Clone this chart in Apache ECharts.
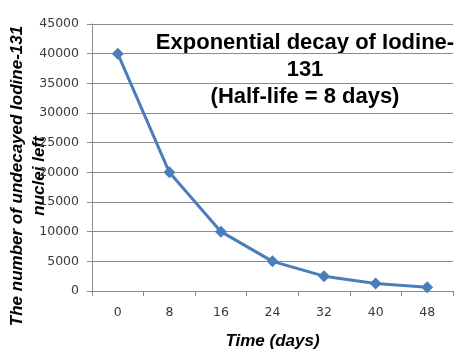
<!DOCTYPE html>
<html>
<head>
<meta charset="utf-8">
<script src="https://cdn.jsdelivr.net/npm/echarts@6/dist/echarts.min.js"></script>
<style>html,body{margin:0;padding:0;background:#fff;}#c{width:474px;height:361px;}</style>
</head>
<body>
<div id="c"></div>
<script>
var categories = ['0', '8', '16', '24', '32', '40', '48'];
var nucleiLeft = [40000, 20000, 10000, 5000, 2500, 1250, 625];
var titleLines = ['Exponential decay of Iodine-', '131', '(Half-life = 8 days)'];
var yTitleLines = ['The number of undecayed Iodine-131', 'nuclei left'];
var xTitle = 'Time (days)';

var chart = echarts.init(document.getElementById('c'));
chart.setOption({
  animation: false,
  backgroundColor: '#fff',
  grid: {left: 92, right: 21, top: 24, bottom: 70, containLabel: false},
  xAxis: {
    type: 'category',
    data: categories,
    boundaryGap: true,
    name: xTitle,
    nameLocation: 'middle',
    nameGap: 42,
    nameTextStyle: {fontSize: 17, fontWeight: 'bold', fontStyle: 'italic', fontFamily: 'Liberation Sans', color: '#000'},
    axisLine: {show: true, lineStyle: {color: '#8c8c8c', width: 1}},
    axisTick: {show: true, length: 5, alignWithLabel: false, lineStyle: {color: '#8c8c8c'}},
    axisLabel: {margin: 15, fontSize: 12.5, fontFamily: 'DejaVu Sans', color: '#3a3a3a'},
    splitLine: {show: false}
  },
  yAxis: {
    type: 'value',
    min: 0, max: 45000, interval: 5000,
    axisLine: {show: true, lineStyle: {color: '#8c8c8c', width: 1}},
    axisTick: {show: true, length: 5, lineStyle: {color: '#8c8c8c'}},
    axisLabel: {margin: 13, fontSize: 12.5, fontFamily: 'DejaVu Sans', color: '#3a3a3a',
      formatter: function (v) { return String(v); }},
    splitLine: {show: true, lineStyle: {color: '#8c8c8c', width: 1}}
  },
  graphic: [
    {
      type: 'text', x: 305, y: 29, silent: true,
      style: {text: titleLines.join('\n'), align: 'center', verticalAlign: 'top',
        font: 'bold 22px "Liberation Sans", Arial, sans-serif', lineHeight: 27, fill: '#000'}
    },
    {
      type: 'text', x: 28, y: 176, rotation: Math.PI / 2, silent: true,
      style: {text: yTitleLines.join('\n'), align: 'center', verticalAlign: 'middle',
        font: 'italic bold 17px "Liberation Sans", Arial, sans-serif', lineHeight: 22, fill: '#000'}
    }
  ],
  series: [{
    type: 'line',
    data: nucleiLeft,
    symbol: 'diamond',
    symbolSize: 12,
    itemStyle: {color: '#4a7ebb'},
    lineStyle: {color: '#4a7ebb', width: 3}
  }]
});
</script>
</body>
</html>
